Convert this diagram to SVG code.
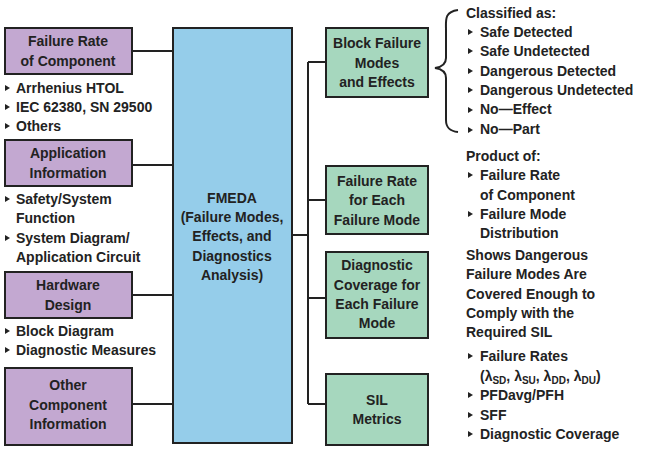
<svg xmlns="http://www.w3.org/2000/svg" width="646" height="450" viewBox="0 0 646 450">
<style>
text{font-family:"Liberation Sans",Arial,sans-serif;font-weight:bold;font-size:14px;fill:#222}
.c{text-anchor:middle}
.p{fill:#c3a8d1;stroke:#222;stroke-width:2}
.g{fill:#a6d7be;stroke:#222;stroke-width:2}
.b{fill:#95cdea;stroke:#222;stroke-width:2}
.l{fill:none;stroke:#222;stroke-width:2}
.s{font-size:10px}
</style>
<defs><path id="bu" d="M0,-4 L5,-1 L0,2 Z" fill="#222"/></defs>
<rect width="646" height="450" fill="#fff"/>
<g id="connectors">
<path class="l" d="M132,51H173M132,165H173M132,295H173M132,404H173M292,235H308M308,62V404M308,62H326M308,200H326M308,298H326M308,404H326"/>
<path class="l" d="M458,10 C444,12 446,20 446,30 V58 C446,64 442,67 435,68 C442,69 446,72 446,78 V120 C446,128 450,131 458,132"/>
</g>
<g id="n1"><rect class="p" x="5" y="28" width="127" height="46"/><text class="c" x="68" y="46">Failure Rate</text><text class="c" x="68" y="66">of Component</text></g>
<g id="n2"><rect class="p" x="5" y="140" width="127" height="46"/><text class="c" x="68" y="158">Application</text><text class="c" x="68" y="178">Information</text></g>
<g id="n3"><rect class="p" x="5" y="272" width="127" height="46"/><text class="c" x="68" y="290">Hardware</text><text class="c" x="68" y="310">Design</text></g>
<g id="n4"><rect class="p" x="5" y="368" width="127" height="77"/><text class="c" x="68" y="390">Other</text><text class="c" x="68" y="410">Component</text><text class="c" x="68" y="429">Information</text></g>
<g id="center"><rect class="b" x="173" y="28" width="119" height="415"/>
<text class="c" x="232" y="203">FMEDA</text><text class="c" x="232" y="222">(Failure Modes,</text><text class="c" x="232" y="241">Effects, and</text><text class="c" x="232" y="261">Diagnostics</text><text class="c" x="232" y="280">Analysis)</text></g>
<g id="r1"><rect class="g" x="326" y="28" width="102" height="69"/><text class="c" x="377" y="48">Block Failure</text><text class="c" x="377" y="68">Modes</text><text class="c" x="377" y="87">and Effects</text></g>
<g id="r2"><rect class="g" x="326" y="166" width="102" height="68"/><text class="c" x="377" y="186">Failure Rate</text><text class="c" x="377" y="205">for Each</text><text class="c" x="377" y="225">Failure Mode</text></g>
<g id="r3"><rect class="g" x="326" y="252" width="102" height="86"/><text class="c" x="377" y="270">Diagnostic</text><text class="c" x="377" y="290">Coverage for</text><text class="c" x="377" y="309">Each Failure</text><text class="c" x="377" y="328">Mode</text></g>
<g id="r4"><rect class="g" x="326" y="374" width="102" height="71"/><text class="c" x="377" y="405">SIL</text><text class="c" x="377" y="424">Metrics</text></g>
<g id="leftlists">
<use href="#bu" x="5" y="89"/><text x="16" y="93">Arrhenius HTOL</text>
<use href="#bu" x="5" y="108"/><text x="16" y="112">IEC 62380, SN 29500</text>
<use href="#bu" x="5" y="127"/><text x="16" y="131">Others</text>
<use href="#bu" x="5" y="200"/><text x="16" y="204">Safety/System</text>
<text x="16" y="223">Function</text>
<use href="#bu" x="5" y="239"/><text x="16" y="243">System Diagram/</text>
<text x="16" y="262">Application Circuit</text>
<use href="#bu" x="5" y="332"/><text x="16" y="336">Block Diagram</text>
<use href="#bu" x="5" y="351"/><text x="16" y="355">Diagnostic Measures</text>
</g>
<g id="rightlists">
<text x="466" y="18">Classified as:</text>
<use href="#bu" x="468" y="33"/><text x="480" y="37">Safe Detected</text>
<use href="#bu" x="468" y="52"/><text x="480" y="56">Safe Undetected</text>
<use href="#bu" x="468" y="72"/><text x="480" y="76">Dangerous Detected</text>
<use href="#bu" x="468" y="91"/><text x="480" y="95">Dangerous Undetected</text>
<use href="#bu" x="468" y="111"/><text x="480" y="114">No—Effect</text>
<use href="#bu" x="468" y="131"/><text x="480" y="134">No—Part</text>
<text x="466" y="161">Product of:</text>
<use href="#bu" x="468" y="176"/><text x="480" y="180">Failure Rate</text>
<text x="480" y="200">of Component</text>
<use href="#bu" x="468" y="215"/><text x="480" y="219">Failure Mode</text>
<text x="480" y="238">Distribution</text>
<text x="466" y="260">Shows Dangerous</text>
<text x="466" y="279">Failure Modes Are</text>
<text x="466" y="299">Covered Enough to</text>
<text x="466" y="318">Comply with the</text>
<text x="466" y="337">Required SIL</text>
<use href="#bu" x="468" y="357"/><text x="480" y="361">Failure Rates</text>
<text x="480" y="381">(λ<tspan class="s" dy="3">SD</tspan><tspan dy="-3">, λ</tspan><tspan class="s" dy="3">SU</tspan><tspan dy="-3">, λ</tspan><tspan class="s" dy="3">DD</tspan><tspan dy="-3">, λ</tspan><tspan class="s" dy="3">DU</tspan><tspan dy="-3">)</tspan></text>
<use href="#bu" x="468" y="396"/><text x="480" y="400">PFDavg/PFH</text>
<use href="#bu" x="468" y="416"/><text x="480" y="420">SFF</text>
<use href="#bu" x="468" y="435"/><text x="480" y="439">Diagnostic Coverage</text>
</g>
</svg>
